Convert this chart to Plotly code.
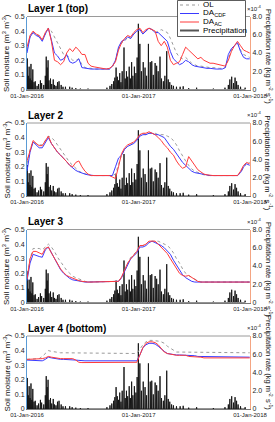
import pandas as pd
import plotly.graph_objects as go

# ---------------- data ----------------
# soil moisture sampled every 10 days from 2016-01-01 (74 samples)
dates = pd.date_range("2016-01-01", periods=74, freq="10D")

ol1 = [0.27, 0.36, 0.39, 0.37, 0.37, 0.34, 0.38, 0.42, 0.40, 0.36,
       0.32, 0.27, 0.24, 0.23, 0.22, 0.20, 0.20, 0.21, 0.17, 0.15,
       0.15, 0.145, 0.14, 0.14, 0.14, 0.14, 0.14, 0.14, 0.155, 0.20,
       0.28, 0.32, 0.33, 0.36, 0.35, 0.38, 0.40, 0.41, 0.38, 0.40,
       0.42, 0.41, 0.39, 0.40, 0.41, 0.40, 0.39, 0.35, 0.30, 0.25,
       0.22, 0.21, 0.22, 0.20, 0.18, 0.17, 0.16, 0.16, 0.155, 0.15,
       0.15, 0.15, 0.145, 0.145, 0.145, 0.15, 0.21, 0.27, 0.30, 0.32,
       0.27, 0.24, 0.23, 0.22]
cdf1 = [0.25, 0.36, 0.39, 0.37, 0.36, 0.33, 0.38, 0.42, 0.34, 0.25,
        0.23, 0.20, 0.21, 0.24, 0.19, 0.18, 0.19, 0.21, 0.15, 0.145,
        0.14, 0.14, 0.14, 0.14, 0.14, 0.14, 0.14, 0.14, 0.16, 0.20,
        0.29, 0.33, 0.34, 0.36, 0.35, 0.38, 0.40, 0.41, 0.38, 0.40,
        0.42, 0.41, 0.39, 0.39, 0.37, 0.35, 0.33, 0.26, 0.21, 0.19,
        0.17, 0.18, 0.20, 0.19, 0.17, 0.16, 0.155, 0.15, 0.15, 0.145,
        0.145, 0.14, 0.14, 0.14, 0.14, 0.15, 0.24, 0.28, 0.30, 0.32,
        0.26, 0.22, 0.21, 0.21]
ac1 = [0.29, 0.37, 0.40, 0.38, 0.37, 0.34, 0.39, 0.42, 0.33, 0.20,
       0.19, 0.17, 0.19, 0.25, 0.28, 0.26, 0.29, 0.27, 0.24, 0.24,
       0.18, 0.16, 0.155, 0.15, 0.145, 0.14, 0.14, 0.145, 0.16, 0.19,
       0.27, 0.32, 0.35, 0.37, 0.36, 0.39, 0.41, 0.42, 0.39, 0.41,
       0.42, 0.41, 0.40, 0.33, 0.30, 0.33, 0.29, 0.20, 0.17, 0.18,
       0.19, 0.24, 0.29, 0.27, 0.25, 0.23, 0.21, 0.22, 0.20, 0.19,
       0.18, 0.18, 0.175, 0.17, 0.17, 0.16, 0.20, 0.26, 0.30, 0.33,
       0.30, 0.27, 0.26, 0.25]

ol2 = [0.22, 0.32, 0.37, 0.36, 0.35, 0.35, 0.38, 0.41, 0.40, 0.38,
       0.35, 0.32, 0.29, 0.26, 0.23, 0.21, 0.19, 0.17, 0.16, 0.15,
       0.145, 0.14, 0.14, 0.14, 0.14, 0.14, 0.14, 0.14, 0.14, 0.15,
       0.22, 0.28, 0.32, 0.34, 0.35, 0.37, 0.39, 0.42, 0.43, 0.42,
       0.43, 0.43, 0.43, 0.42, 0.42, 0.42, 0.41, 0.40, 0.38, 0.35,
       0.31, 0.27, 0.24, 0.21, 0.185, 0.17, 0.16, 0.15, 0.145, 0.14,
       0.14, 0.14, 0.14, 0.14, 0.14, 0.14, 0.14, 0.14, 0.14, 0.14,
       0.16, 0.20, 0.23, 0.23]
cdf2 = [0.17, 0.30, 0.37, 0.35, 0.33, 0.33, 0.37, 0.40, 0.36, 0.33,
        0.30, 0.28, 0.26, 0.235, 0.21, 0.19, 0.175, 0.165, 0.155, 0.15,
        0.145, 0.14, 0.14, 0.14, 0.14, 0.14, 0.14, 0.14, 0.14, 0.20,
        0.26, 0.28, 0.32, 0.34, 0.35, 0.36, 0.38, 0.41, 0.42, 0.42,
        0.43, 0.43, 0.42, 0.42, 0.41, 0.40, 0.37, 0.34, 0.32, 0.29,
        0.26, 0.23, 0.21, 0.19, 0.17, 0.16, 0.155, 0.15, 0.145, 0.14,
        0.14, 0.14, 0.14, 0.14, 0.14, 0.14, 0.14, 0.14, 0.14, 0.14,
        0.16, 0.20, 0.22, 0.21]
ac2 = [0.24, 0.32, 0.38, 0.36, 0.345, 0.345, 0.38, 0.41, 0.36, 0.33,
       0.30, 0.28, 0.26, 0.235, 0.21, 0.20, 0.23, 0.24, 0.20, 0.17,
       0.15, 0.14, 0.14, 0.14, 0.14, 0.14, 0.14, 0.14, 0.13, 0.12,
       0.20, 0.29, 0.33, 0.35, 0.36, 0.37, 0.39, 0.42, 0.43, 0.43,
       0.44, 0.43, 0.42, 0.40, 0.38, 0.35, 0.33, 0.30, 0.28, 0.24,
       0.21, 0.19, 0.20, 0.27, 0.24, 0.21, 0.18, 0.165, 0.15, 0.145,
       0.14, 0.14, 0.14, 0.14, 0.14, 0.14, 0.14, 0.14, 0.14, 0.14,
       0.17, 0.21, 0.23, 0.22]

ol3 = [0.16, 0.30, 0.37, 0.37, 0.37, 0.36, 0.38, 0.40, 0.38, 0.35,
       0.31, 0.28, 0.25, 0.22, 0.20, 0.18, 0.17, 0.16, 0.15, 0.145,
       0.14, 0.14, 0.14, 0.14, 0.14, 0.14, 0.14, 0.14, 0.14, 0.14,
       0.145, 0.17, 0.22, 0.27, 0.31, 0.33, 0.35, 0.39, 0.39, 0.40,
       0.42, 0.42, 0.42, 0.42, 0.41, 0.40, 0.39, 0.37, 0.34, 0.30,
       0.27, 0.23, 0.20, 0.185, 0.17, 0.16, 0.15, 0.14, 0.14, 0.14,
       0.14, 0.14, 0.14, 0.14, 0.14, 0.14, 0.14, 0.14, 0.14, 0.14,
       0.14, 0.14, 0.14, 0.14]
cdf3 = [0.15, 0.27, 0.33, 0.32, 0.315, 0.31, 0.36, 0.38, 0.34, 0.30,
        0.26, 0.225, 0.20, 0.18, 0.165, 0.155, 0.15, 0.145, 0.14, 0.14,
        0.14, 0.14, 0.14, 0.14, 0.14, 0.14, 0.14, 0.14, 0.14, 0.14,
        0.145, 0.17, 0.21, 0.26, 0.30, 0.32, 0.34, 0.38, 0.38, 0.39,
        0.41, 0.42, 0.41, 0.405, 0.39, 0.375, 0.355, 0.33, 0.29, 0.255,
        0.22, 0.19, 0.17, 0.155, 0.145, 0.14, 0.14, 0.14, 0.14, 0.14,
        0.14, 0.14, 0.14, 0.14, 0.14, 0.14, 0.14, 0.14, 0.14, 0.14,
        0.14, 0.14, 0.14, 0.14]
ac3 = [0.16, 0.30, 0.35, 0.35, 0.34, 0.33, 0.37, 0.38, 0.34, 0.30,
       0.265, 0.23, 0.205, 0.185, 0.175, 0.165, 0.16, 0.15, 0.145, 0.14,
       0.14, 0.14, 0.14, 0.14, 0.14, 0.14, 0.14, 0.14, 0.14, 0.14,
       0.145, 0.175, 0.22, 0.27, 0.30, 0.325, 0.35, 0.39, 0.39, 0.40,
       0.42, 0.42, 0.42, 0.40, 0.38, 0.36, 0.335, 0.30, 0.265, 0.225,
       0.20, 0.185, 0.18, 0.185, 0.17, 0.155, 0.145, 0.14, 0.14, 0.14,
       0.14, 0.14, 0.14, 0.14, 0.14, 0.14, 0.14, 0.14, 0.14, 0.14,
       0.14, 0.14, 0.14, 0.14]

ol4 = [0.34, 0.34, 0.34, 0.34, 0.345, 0.36, 0.38, 0.40, 0.395, 0.39,
       0.39, 0.385, 0.385, 0.385, 0.385, 0.385, 0.385, 0.38, 0.38, 0.38,
       0.38, 0.38, 0.38, 0.38, 0.38, 0.38, 0.38, 0.38, 0.38, 0.38,
       0.38, 0.38, 0.38, 0.38, 0.38, 0.38, 0.38, 0.41, 0.44, 0.46,
       0.47, 0.47, 0.47, 0.465, 0.46, 0.45, 0.43, 0.415, 0.40, 0.39,
       0.39, 0.39, 0.39, 0.385, 0.385, 0.385, 0.385, 0.385, 0.385, 0.385,
       0.385, 0.385, 0.385, 0.385, 0.385, 0.385, 0.385, 0.385, 0.385, 0.385,
       0.385, 0.385, 0.385, 0.385]
cdf4 = [0.335, 0.335, 0.335, 0.335, 0.33, 0.33, 0.34, 0.355, 0.35, 0.345,
        0.34, 0.34, 0.34, 0.34, 0.34, 0.34, 0.335, 0.333, 0.33, 0.33,
        0.33, 0.33, 0.33, 0.33, 0.33, 0.33, 0.33, 0.33, 0.33, 0.33,
        0.33, 0.33, 0.33, 0.33, 0.33, 0.33, 0.33, 0.37, 0.42, 0.44,
        0.45, 0.45, 0.445, 0.43, 0.41, 0.395, 0.38, 0.375, 0.372, 0.37,
        0.37, 0.37, 0.37, 0.365, 0.365, 0.365, 0.36, 0.36, 0.36, 0.355,
        0.355, 0.355, 0.355, 0.355, 0.355, 0.355, 0.355, 0.355, 0.355, 0.355,
        0.355, 0.355, 0.355, 0.355]
ac4 = [0.34, 0.34, 0.34, 0.34, 0.34, 0.345, 0.35, 0.36, 0.355, 0.35,
       0.345, 0.345, 0.345, 0.345, 0.345, 0.345, 0.335, 0.32, 0.318, 0.318,
       0.318, 0.318, 0.318, 0.318, 0.318, 0.318, 0.318, 0.318, 0.318, 0.318,
       0.318, 0.318, 0.318, 0.318, 0.318, 0.318, 0.32, 0.37, 0.42, 0.45,
       0.46, 0.46, 0.455, 0.44, 0.415, 0.39, 0.38, 0.375, 0.372, 0.368,
       0.368, 0.368, 0.368, 0.36, 0.36, 0.36, 0.355, 0.355, 0.35, 0.35,
       0.35, 0.35, 0.35, 0.35, 0.35, 0.35, 0.35, 0.35, 0.35, 0.35,
       0.35, 0.35, 0.35, 0.35]

# precipitation events: day offset from 2016-01-01, rate in 1e-4 kg m-2 s-1
precip_day = [1, 4, 7, 10, 13, 16, 19, 23, 27, 33,
              38, 44, 48, 55, 60, 63, 66, 69, 72, 77,
              81, 86, 90, 95, 100, 105, 112, 118, 126, 140,
              148, 160, 175, 200,
              262, 272, 278, 284, 288, 292, 296, 300, 304, 308,
              312, 318, 322, 326, 330, 335, 339, 343, 347, 352,
              357, 361, 365, 370, 375, 381, 387, 392, 398, 404,
              409, 414, 420, 425, 430, 436, 441, 447, 452, 458,
              463, 468, 474, 480, 490, 502, 512, 530, 556, 611,
              649, 660, 665, 671, 677, 682, 687, 692, 700, 715]
precip_val = [3.4, 1.5, 2.5, 1.2, 2.8, 1.0, 2.2, 0.8, 0.9, 0.4,
              0.6, 1.0, 0.7, 0.5, 1.5, 3.6, 2.4, 3.2, 1.0, 1.2,
              0.6, 1.1, 0.5, 0.4, 0.8, 0.9, 0.5, 0.3, 0.3, 0.3,
              0.2, 0.15, 0.1, 0.1,
              0.2, 0.4, 0.6, 0.9, 1.3, 2.4, 1.4, 1.0, 1.8, 0.8,
              2.0, 4.6, 1.2, 2.0, 1.4, 2.5, 1.2, 3.0, 1.5, 2.5,
              1.8, 3.5, 7.2, 5.0, 2.0, 3.0, 2.4, 1.5, 5.0, 3.0,
              3.1, 1.6, 2.9, 2.6, 2.0, 3.6, 1.2, 0.9, 1.5, 4.2,
              1.1, 0.8, 0.5, 0.4, 0.3, 0.3, 0.35, 0.15, 0.2, 0.1,
              0.2, 0.5, 1.1, 1.4, 0.7, 1.3, 0.9, 0.5, 0.3, 0.2]

layer_titles = ["Layer 1 (top)", "Layer 2", "Layer 3", "Layer 4 (bottom)"]
sm_ticks = [0, 0.1, 0.2, 0.3, 0.4, 0.5]
sm_ticktext = ["0", "0.1", "0.2", "0.3", "0.4", "0.5"]
pr_ticks = [0, 2, 4, 6, 8]
pr_ticktext = ["0", "2.0", "4.0", "6.0", "8.0"]
date_ticks = ["2016-01-01", "2017-01-01", "2018-01-01"]
date_ticktext = ["01-Jan-2016", "01-Jan-2017", "01-Jan-2018"]

# ---------------- figure ----------------
W, H = 275, 422
FONT = "Liberation Sans, Arial, sans-serif"
C_OL, C_CDF, C_AC = "#9a9a9a", "#3a3aff", "#ff3b3b"
C_LEFT, C_RIGHT, C_FRAME = "#5b9bd5", "#f4a582", "#9a9a9a"

def fx(p):
    return p / W

def fy(p):
    return 1 - p / H

X0, X1 = 27, 250
tops = [16.5, 123, 229.5, 336]
PH = 73

# precipitation drawn as narrow spikes (each event rises from 0 and returns to 0)
day0 = pd.Timestamp("2016-01-01")
spike_x, spike_y = [], []
for d, v in zip(precip_day, precip_val):
    spike_x += [day0 + pd.Timedelta(days=d - 0.9), day0 + pd.Timedelta(days=d),
                day0 + pd.Timedelta(days=d + 0.9)]
    spike_y += [0, v, 0]

layers = [(ol1, cdf1, ac1), (ol2, cdf2, ac2), (ol3, cdf3, ac3), (ol4, cdf4, ac4)]

fig = go.Figure()
layout = {}
shapes = []
annotations = []

for i, (ol, cdf, ac) in enumerate(layers):
    n = i + 1
    xid = "x" if n == 1 else f"x{n}"
    yb = 2 * n - 1
    ys = 2 * n
    ybid = "y" if yb == 1 else f"y{yb}"
    ysid = f"y{ys}"
    top, bot = tops[i], tops[i] + PH
    dom = [fy(bot), fy(top)]

    fig.add_trace(go.Scatter(x=spike_x, y=spike_y, mode="lines",
                             line=dict(color="#111111", width=0.9),
                             fill="tozeroy", fillcolor="rgba(110,110,110,0.8)",
                             xaxis=xid, yaxis=ybid, showlegend=False))
    fig.add_trace(go.Scatter(x=dates, y=ol, mode="lines",
                             line=dict(color=C_OL, width=1, dash="dot"),
                             xaxis=xid, yaxis=ysid, showlegend=False))
    fig.add_trace(go.Scatter(x=dates, y=cdf, mode="lines",
                             line=dict(color=C_CDF, width=1),
                             xaxis=xid, yaxis=ysid, showlegend=False))
    fig.add_trace(go.Scatter(x=dates, y=ac, mode="lines",
                             line=dict(color=C_AC, width=1),
                             xaxis=xid, yaxis=ysid, showlegend=False))

    xkey = "xaxis" if n == 1 else f"xaxis{n}"
    ybkey = "yaxis" if yb == 1 else f"yaxis{yb}"
    yskey = f"yaxis{ys}"
    layout[xkey] = dict(domain=[fx(X0), fx(X1)], anchor=ybid, type="date",
                        range=["2016-01-01", "2018-01-01"],
                        tickvals=date_ticks, ticktext=date_ticktext,
                        tickfont=dict(size=6, color="#222"), ticks="",
                        showline=True, linecolor="#777", linewidth=1,
                        showgrid=False, zeroline=False, automargin=False)
    layout[ybkey] = dict(domain=dom, anchor=xid, side="right", range=[0, 8],
                         tickvals=pr_ticks, ticktext=pr_ticktext,
                         tickfont=dict(size=7, color="#222"), ticks="",
                         showline=True, linecolor=C_RIGHT, linewidth=1,
                         showgrid=False, zeroline=False, automargin=False)
    layout[yskey] = dict(overlaying=ybid, anchor=xid, side="left", range=[0, 0.5],
                         tickvals=sm_ticks, ticktext=sm_ticktext,
                         tickfont=dict(size=7, color="#222"), ticks="",
                         showline=True, linecolor=C_LEFT, linewidth=1,
                         showgrid=False, zeroline=False, automargin=False)

    # top frame line
    shapes.append(dict(type="line", xref="paper", yref="paper",
                       x0=fx(X0), x1=fx(X1), y0=fy(top), y1=fy(top),
                       line=dict(color=C_FRAME, width=1)))
    # panel title
    annotations.append(dict(text=f"<b>{layer_titles[i]}</b>", xref="paper", yref="paper",
                            x=fx(X0 - 1), y=fy(top - 0.5), xanchor="left", yanchor="bottom",
                            showarrow=False, font=dict(size=10, color="#000")))
    # axis titles
    annotations.append(dict(text="Soil moisture (m<sup>3</sup> m<sup>-3</sup>)",
                            xref="paper", yref="paper", x=fx(6), y=fy(top + PH / 2),
                            xanchor="center", yanchor="middle", textangle=-90,
                            showarrow=False, font=dict(size=8, color="#111")))
    rcen = min(top + PH / 2 + 3, 362)
    annotations.append(dict(text="Precipitation rate (kg m<sup>-2</sup> s<sup>-1</sup>)",
                            xref="paper", yref="paper", x=fx(269), y=fy(rcen),
                            xanchor="center", yanchor="middle", textangle=90,
                            showarrow=False, font=dict(size=7.5, color="#111")))
    annotations.append(dict(text="\u00d710<sup>-4</sup>", xref="paper", yref="paper",
                            x=fx(254), y=fy(top - 9), xanchor="center", yanchor="middle",
                            showarrow=False, font=dict(size=6, color="#222")))

# manual legend (top right of panel 1)
shapes.append(dict(type="rect", xref="paper", yref="paper",
                   x0=fx(177.5), x1=fx(245.5), y0=fy(36.5), y1=fy(0.5),
                   fillcolor="white", line=dict(color="#333", width=0.8)))
leg_items = [("OL", C_OL, "dot", 1.2, 5.0),
             ("DA<sub>CDF</sub>", C_CDF, "solid", 1, 13.5),
             ("DA<sub>AC</sub>", C_AC, "solid", 1, 22.0),
             ("Precipitation", "#555555", "solid", 2, 30.5)]
for txt, col, dash, wd, yy in leg_items:
    shapes.append(dict(type="line", xref="paper", yref="paper",
                       x0=fx(180), x1=fx(199), y0=fy(yy), y1=fy(yy),
                       line=dict(color=col, width=wd, dash=dash)))
    annotations.append(dict(text=txt, xref="paper", yref="paper", x=fx(201), y=fy(yy),
                            xanchor="left", yanchor="middle", showarrow=False,
                            font=dict(size=8, color="#000")))

fig.update_layout(width=W, height=H, margin=dict(l=0, r=0, t=0, b=0),
                  paper_bgcolor="white", plot_bgcolor="white",
                  font=dict(family=FONT, size=7, color="#222"),
                  showlegend=False, hovermode=False,
                  shapes=shapes, annotations=annotations, **layout)

fig.write_html("out.html", config={"displayModeBar": False, "staticPlot": True},
               post_script="document.body.style.margin='0';document.body.style.padding='0';"
                           "document.documentElement.style.overflow='hidden';")
